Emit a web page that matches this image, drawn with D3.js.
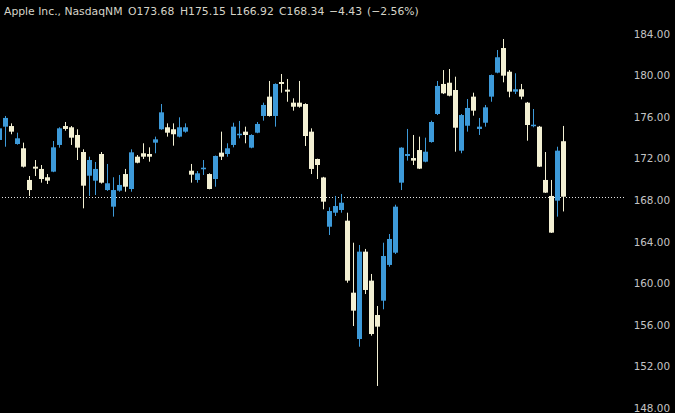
<!DOCTYPE html>
<html>
<head>
<meta charset="utf-8">
<script src="https://cdn.jsdelivr.net/npm/d3@7"></script>
<style>
  html, body { margin: 0; padding: 0; background: #000; }
  svg { display: block; }
</style>
</head>
<body>
<svg width="675" height="413"></svg>
<script>
// daily OHLC, oldest first
var open = [173.80,175.08,175.14,173.41,173.00,169.95,171.23,171.01,170.21,170.75,
            173.32,175.14,175.02,174.28,172.64,170.36,169.88,172.45,168.98,167.38,
            168.92,170.52,169.08,172.19,172.52,172.45,173.54,174.83,175.02,174.83,
            174.12,174.60,170.84,169.95,170.98,170.52,170.04,172.58,172.45,173.32,
            174.28,174.60,173.06,174.50,176.11,177.97,176.11,179.38,178.64,177.39,
            177.39,177.26,174.60,171.97,170.19,165.45,166.80,167.06,166.03,159.10,
            154.64,163.05,160.26,156.95,158.33,161.77,162.95,169.69,172.26,172.06,
            172.83,171.71,173.60,176.30,179.19,179.31,178.61,172.77,175.17,177.97,
            174.86,175.46,177.97,180.28,182.65,180.37,178.45,178.68,177.39,175.14,
            175.08,169.95,168.41,167.96,173.68];
var high = [175.14,176.11,175.40,174.50,173.54,170.33,171.87,171.39,170.52,173.70,
            175.02,175.53,175.14,174.83,172.90,172.19,171.68,172.64,171.49,170.21,
            170.43,171.01,172.90,172.35,173.48,173.09,174.12,177.26,175.40,175.40,
            175.98,175.40,171.49,170.81,171.87,170.59,172.30,174.60,173.48,175.46,
            175.63,175.08,174.35,175.53,177.39,179.48,179.25,180.15,179.67,177.81,
            179.48,177.33,174.92,172.00,170.25,167.32,168.41,168.60,166.80,163.91,
            163.69,163.31,160.90,157.82,163.91,164.75,167.57,173.10,174.86,174.28,
            174.12,174.02,175.66,179.48,180.53,180.63,179.89,176.30,177.74,178.35,
            175.92,177.17,180.10,182.46,183.52,180.53,180.22,179.19,177.46,176.78,
            175.15,172.64,169.95,173.15,175.15];
var low  = [173.60,173.15,174.35,173.35,171.15,168.41,170.33,169.69,169.56,170.70,
            173.06,174.69,173.32,171.87,167.22,168.41,168.50,169.60,168.90,166.42,
            168.82,168.82,168.82,171.55,171.97,171.71,172.52,174.78,174.12,173.25,
            174.05,174.50,169.69,169.69,170.43,169.05,169.30,171.87,172.19,173.09,
            173.96,173.48,173.00,174.45,175.66,176.05,175.08,178.35,177.48,176.62,
            176.91,173.22,170.52,170.04,167.13,164.65,166.48,166.80,160.06,155.89,
            153.90,158.97,154.96,150.12,157.50,161.60,162.82,168.98,171.81,171.39,
            171.00,171.65,173.54,176.20,178.22,178.00,172.67,172.52,174.60,176.14,
            174.28,175.08,177.48,180.22,179.35,177.91,178.22,177.71,173.73,175.02,
            171.20,168.70,164.85,166.42,166.92];
var close = [174.92,175.92,174.60,173.96,171.23,168.98,171.04,170.04,169.88,173.09,
            174.92,174.86,174.02,173.06,169.40,171.87,171.01,169.69,169.63,168.98,
            169.47,169.30,172.61,171.61,172.19,172.19,173.86,176.46,174.50,174.35,
            175.02,175.02,170.46,170.59,171.13,169.08,172.26,172.19,173.00,175.08,
            174.40,174.28,174.28,175.34,177.17,176.11,179.19,179.19,178.45,177.00,
            177.00,174.18,171.01,171.39,167.86,166.96,167.44,167.76,160.26,157.37,
            163.05,159.36,155.12,155.83,162.63,164.27,167.38,173.06,172.45,171.81,
            171.04,172.67,175.53,179.00,178.29,178.06,174.98,176.20,176.88,176.62,
            175.08,176.94,180.05,181.76,179.99,178.45,178.68,177.97,175.24,175.27,
            171.23,168.73,164.88,172.77,168.34];
var priceTicks = [148, 152, 156, 160, 164, 168, 172, 176, 180, 184];
var titleParts = [
  {text: "Apple Inc., NasdaqNM", x: 4},
  {text: "O173.68", x: 128},
  {text: "H175.15", x: 180},
  {text: "L166.92", x: 230},
  {text: "C168.34", x: 279},
  {text: "\u22124.43", x: 329},
  {text: "(\u22122.56%)", x: 367}
];

var svg = d3.select("svg"),
    width = +svg.attr("width"),
    height = +svg.attr("height");

var upColor = "#3d9ad9",
    downColor = "#f3f0d3";

var data = open.map(function(o, i) {
  return {i: i, o: o, h: high[i], l: low[i], c: close[i]};
});

var x = d3.scaleLinear().domain([0, data.length - 1]).range([-0.7, 563.3]),
    y = d3.scaleLinear().domain([148, 184]).range([408, 34]);

var bodyW = 5;

svg.append("rect").attr("width", width).attr("height", height).attr("fill", "#000");

// last close line
var last = close[close.length - 1];
svg.append("line")
    .attr("x1", 2).attr("x2", 626)
    .attr("y1", Math.round(y(last)) + 0.5).attr("y2", Math.round(y(last)) + 0.5)
    .attr("stroke", "#e6e6e6")
    .attr("stroke-width", 1)
    .attr("stroke-dasharray", "1,2");

var candle = svg.append("g").selectAll("g")
  .data(data)
  .enter().append("g")
    .attr("fill", function(d) { return d.c >= d.o ? upColor : downColor; })
    .attr("stroke", function(d) { return d.c >= d.o ? upColor : downColor; });

candle.append("line")
    .attr("x1", function(d) { return Math.round(x(d.i)) + 0.5; })
    .attr("x2", function(d) { return Math.round(x(d.i)) + 0.5; })
    .attr("y1", function(d) { return y(d.h); })
    .attr("y2", function(d) { return y(d.l); })
    .attr("stroke-width", 1);

candle.append("rect")
    .attr("stroke", "none")
    .attr("x", function(d) { return Math.round(x(d.i)) - 2; })
    .attr("width", bodyW)
    .attr("y", function(d) { return y(Math.max(d.o, d.c)); })
    .attr("height", function(d) { return Math.max(1.5, Math.abs(y(d.o) - y(d.c))); });

// price axis on the right
var axis = svg.append("g")
    .attr("transform", "translate(670,0)")
    .call(d3.axisRight(y).tickValues(priceTicks).tickFormat(d3.format(".2f")).tickSize(0));
axis.select(".domain").remove();
axis.selectAll("text")
    .attr("x", 0)
    .attr("text-anchor", "end")
    .attr("fill", "#c4c4c4")
    .style("font-family", "'DejaVu Sans', sans-serif")
    .style("font-size", "10.4px");

svg.append("text")
    .attr("y", 15)
    .attr("fill", "#d6d4c8")
    .style("font-family", "'DejaVu Sans', sans-serif")
    .style("font-size", "10.8px")
  .selectAll("tspan")
  .data(titleParts)
  .enter().append("tspan")
    .attr("x", function(d) { return d.x; })
    .text(function(d) { return d.text; });
</script>
</body>
</html>
